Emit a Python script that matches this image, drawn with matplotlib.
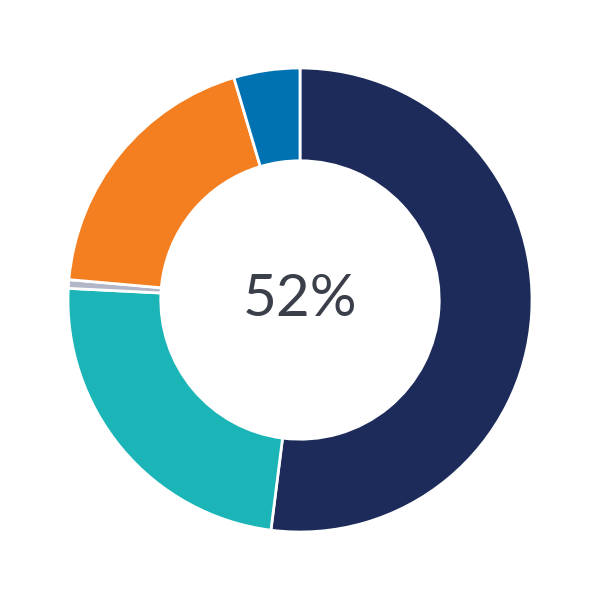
import matplotlib
matplotlib.use("Agg")
import matplotlib.pyplot as plt

# === Data ===
labels = ["Navy", "Teal", "Grey", "Orange", "Blue"]
values = [52.0, 23.8, 0.6, 19.0, 4.6]
colors = ["#1c2b5a", "#1bb5b8", "#b3b6c8", "#f47f20", "#0072b2"]
center_text = "52%"

# === Plot ===
fig, ax = plt.subplots(figsize=(6, 6), dpi=100)
fig.subplots_adjust(left=0, right=1, bottom=0, top=1)

ax.pie(values, colors=colors, startangle=90, counterclock=False,
       radius=1.0, wedgeprops=dict(width=0.40, edgecolor="white", linewidth=2))
ax.text(0, 0, center_text, ha="center", va="center", fontsize=42,
        color="#3a3f4a", family=["Lato", "DejaVu Sans"])

ax.set_xlim(-1.293, 1.293)
ax.set_ylim(-1.293, 1.293)
ax.set_aspect("equal")
ax.axis("off")

plt.savefig("out.png", dpi=100, facecolor="white")
